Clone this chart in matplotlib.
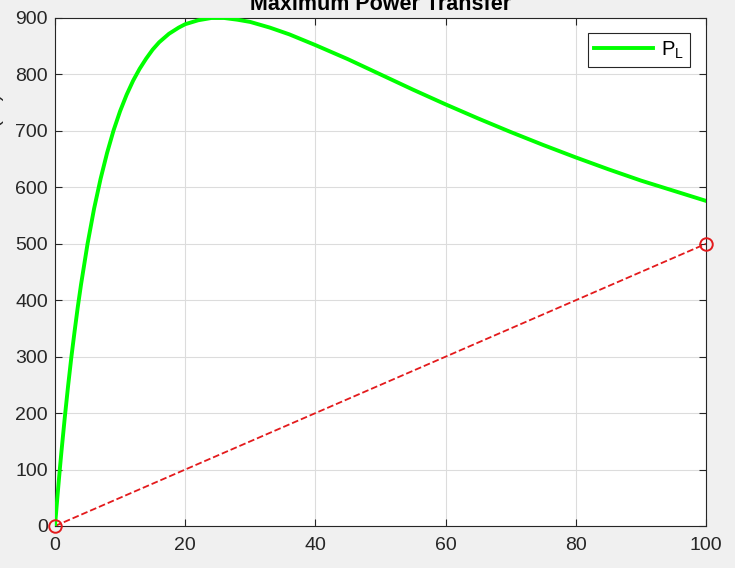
import numpy as np
import matplotlib
matplotlib.use('Agg')
import matplotlib.pyplot as plt

# load resistance (ohm) and power
rl = [0, 0.25, 0.5, 0.75, 1, 1.5, 2, 2.5, 3, 3.5, 4, 5, 6, 7, 8, 9, 10, 11, 12, 13,
      14, 15, 16, 17.5, 19, 20, 22, 24, 25, 26, 28, 30, 33, 36, 40, 45, 50, 55, 60,
      65, 70, 75, 80, 85, 90, 95, 100]
pl = [0, 35, 69, 102, 133, 192, 247, 298, 344, 388, 428, 500, 562, 615, 661, 701,
      735, 764, 789, 810, 828, 844, 857, 872, 883, 889, 896, 900, 900, 900, 897,
      893, 883, 871, 852, 827, 800, 773, 747, 722, 698, 675, 653, 632, 612, 594, 576]

# red dashed reference line with end markers
ref_x = [0, 100]
ref_y = [0, 500]

plt.rcParams['font.family'] = ['Liberation Sans', 'DejaVu Sans']

fig = plt.figure(figsize=(7.35, 5.68), dpi=100, facecolor='#f0f0f0')
ax = fig.add_axes([55/735, 42/568, 651/735, 508/568])
ax.set_facecolor('white')

ax.plot(rl, pl, color='#00ff00', lw=2.8, label=r'$\mathregular{P_L}$', zorder=3,
        solid_joinstyle='round')
ax.plot(ref_x, ref_y, '--', color='#e31a1c', lw=1.3, zorder=2)
ax.plot(ref_x, ref_y, 'o', color='#e31a1c', mfc='none', ms=9, mew=1.4,
        zorder=4, clip_on=False)

ax.set_xlim(0, 100)
ax.set_ylim(0, 900)
ax.set_xticks(np.arange(0, 101, 20))
ax.set_yticks(np.arange(0, 901, 100))
ax.grid(True, color='#dcdcdc', lw=0.8)
ax.set_axisbelow(True)
ax.tick_params(direction='in', top=True, right=True, length=5, labelsize=14,
               colors='#262626')
ax.tick_params(axis='x', pad=8)
ax.tick_params(axis='y', pad=5)
for s in ax.spines.values():
    s.set_color('#262626')
    s.set_linewidth(0.8)

ax.set_title('Maximum Power Transfer', fontsize=15.5, fontweight='bold',
             color='black', pad=6)
ax.set_ylabel('Power (W)', fontsize=15, color='#262626')
ax.yaxis.set_label_coords(-0.078, 0.755)

leg = ax.legend(loc='upper right', fontsize=14.5, fancybox=False, framealpha=1,
                edgecolor='#262626', handlelength=2.9, handletextpad=0.4,
                borderpad=0.3, borderaxespad=0, bbox_to_anchor=(0.975, 0.97))
leg.get_frame().set_linewidth(0.8)

fig.savefig('out.png', dpi=100, facecolor=fig.get_facecolor())
